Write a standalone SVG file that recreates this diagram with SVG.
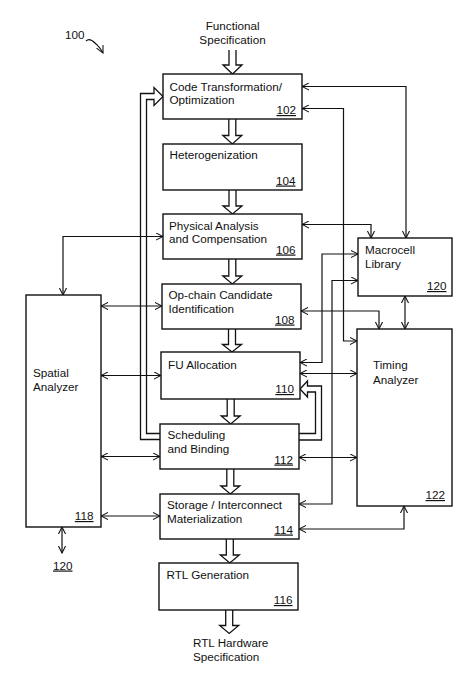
<svg xmlns="http://www.w3.org/2000/svg" width="474" height="696" viewBox="0 0 474 696">
<defs>
<style>
text{font-family:"Liberation Sans",Arial,sans-serif;font-size:11.7px;fill:#111}
.num{text-anchor:end;text-decoration:underline}
.box{fill:#fff;stroke:#111;stroke-width:1.4}
.blk{fill:#fff;stroke:#111;stroke-width:1.3;stroke-linejoin:miter}
.con{fill:none;stroke:#111;stroke-width:1.2;marker-start:url(#ah);marker-end:url(#ah)}
.hol{fill:none;stroke:#111;stroke-width:1.3}
</style>
<marker id="ah" viewBox="0 0 10 10" refX="9" refY="5" markerWidth="8" markerHeight="8" markerUnits="userSpaceOnUse" orient="auto-start-reverse">
<path d="M0,0.5 L9,5 L0,9.5" fill="none" stroke="#111" stroke-width="1.3"/>
</marker>
<marker id="ah1" viewBox="0 0 10 10" refX="9" refY="5" markerWidth="8" markerHeight="8" markerUnits="userSpaceOnUse" orient="auto">
<path d="M0,0.5 L9,5 L0,9.5" fill="none" stroke="#111" stroke-width="1.3"/>
</marker>
</defs>
<rect width="474" height="696" fill="#fff"/>

<g id="label100">
<text x="65" y="39">100</text>
<path d="M86,41 C89,38 92,40 95,43 S100,47 103,53" fill="none" stroke="#111" stroke-width="1.2" marker-end="url(#ah1)"/>
</g>

<g id="input">
<text x="232.7" y="30" text-anchor="middle">Functional</text>
<text x="232.5" y="44" text-anchor="middle">Specification</text>
</g>

<g id="output">
<text x="193" y="647">RTL Hardware</text>
<text x="193" y="661">Specification</text>
</g>

<g id="flow">
<path class="blk" d="M229,50 V65 H223 L232.5,74 L242,65 H236 V50"/>
<path class="blk" d="M228.8,119 V135.5 H222.8 L232.3,144 L241.8,135.5 H235.8 V119"/>
<path class="blk" d="M229,190 V206 H223 L232.5,214 L242,206 H236 V190"/>
<path class="blk" d="M228.8,259 V276 H222.8 L232.3,284 L241.8,276 H235.8 V259"/>
<path class="blk" d="M228.5,329 V344.5 H222.5 L232,352 L241.5,344.5 H235.5 V329"/>
<path class="blk" d="M227.2,399 V416 H221.2 L230.7,424 L240.2,416 H234.2 V399"/>
<path class="blk" d="M226.8,469 V486 H220.8 L230.3,494 L239.8,486 H233.8 V469"/>
<path class="blk" d="M226.3,539 V555 H220.3 L229.8,563 L239.3,555 H233.3 V539"/>
<path class="blk" d="M225.7,610 V625.5 H219.7 L229.2,633.5 L238.7,625.5 H232.7 V610"/>
</g>

<g id="connectors">
<path class="hol" d="M160,439.5 H140.5 V93.5 H154 V87.5 L163,96.5 L154,105.5 V99.5 H146.5 V433.5 H160"/>
<path class="hol" d="M299,440 H321.5 V386 H307.5 V381 L300,389 L307.5,397 V392 H315.5 V433.5 H299"/>
<path class="con" d="M302,86.5 H406 V238"/>
<path class="con" d="M302,108.5 H343.5 V341 H357"/>
<path class="con" d="M302,224.5 H371 V238"/>
<path class="con" d="M358,254 H322 V362.5 H300"/>
<path class="con" d="M358,280.5 H332 V504 H299"/>
<path class="con" d="M301,311 H379 V329"/>
<path class="con" d="M405,296 V329"/>
<path class="con" d="M300,373.5 H357"/>
<path class="con" d="M299,457.5 H357"/>
<path class="con" d="M299,529 H404 V506"/>
<path class="con" d="M63,295 V236.5 H163"/>
<path class="con" d="M101,306 H162"/>
<path class="con" d="M101,375.5 H161"/>
<path class="con" d="M101,456.5 H160"/>
<path class="con" d="M101,516 H160"/>
<path class="con" d="M62,527 V553"/>
</g>

<g id="n102">
<rect class="box" x="163" y="74" width="139" height="45"/>
<text x="169.5" y="90.5">Code Transformation/</text>
<text x="169.5" y="103.5">Optimization</text>
<text class="num" x="296" y="114">102</text>
</g>
<g id="n104">
<rect class="box" x="163" y="144" width="139" height="46"/>
<text x="169.5" y="159">Heterogenization</text>
<text class="num" x="295.5" y="184.5">104</text>
</g>
<g id="n106">
<rect class="box" x="163" y="214" width="139" height="45"/>
<text x="169" y="229.5">Physical Analysis</text>
<text x="169" y="243">and Compensation</text>
<text class="num" x="295.5" y="253.5">106</text>
</g>
<g id="n108">
<rect class="box" x="162" y="284" width="139" height="45"/>
<text x="168.5" y="298.5">Op-chain Candidate</text>
<text x="168.5" y="313">Identification</text>
<text class="num" x="294.5" y="323.5">108</text>
</g>
<g id="n110">
<rect class="box" x="161" y="352" width="139" height="47"/>
<text x="168" y="368.5">FU Allocation</text>
<text class="num" x="294" y="393">110</text>
</g>
<g id="n112">
<rect class="box" x="160" y="424" width="139" height="45"/>
<text x="167.5" y="438.5">Scheduling</text>
<text x="167.5" y="452.5">and Binding</text>
<text class="num" x="293" y="463.5">112</text>
</g>
<g id="n114">
<rect class="box" x="160" y="494" width="139" height="45"/>
<text x="167" y="509">Storage / Interconnect</text>
<text x="167" y="523">Materialization</text>
<text class="num" x="293" y="533.5">114</text>
</g>
<g id="n116">
<rect class="box" x="159" y="563" width="139" height="47"/>
<text x="166.5" y="578.5">RTL Generation</text>
<text class="num" x="292.5" y="604">116</text>
</g>
<g id="n118">
<rect class="box" x="26" y="295" width="75" height="232"/>
<text x="33" y="377">Spatial</text>
<text x="33" y="390.5">Analyzer</text>
<text class="num" x="93.5" y="520">118</text>
</g>
<g id="n120">
<rect class="box" x="358" y="238" width="94" height="58"/>
<text x="365" y="254">Macrocell</text>
<text x="365" y="267.5">Library</text>
<text class="num" x="446.5" y="290">120</text>
</g>
<g id="n122">
<rect class="box" x="357" y="329" width="95" height="177"/>
<text x="373" y="369">Timing</text>
<text x="373" y="383.5">Analyzer</text>
<text class="num" x="445" y="499">122</text>
</g>
<g id="ref120">
<text x="53" y="569.5" style="text-decoration:underline">120</text>
</g>
</svg>
